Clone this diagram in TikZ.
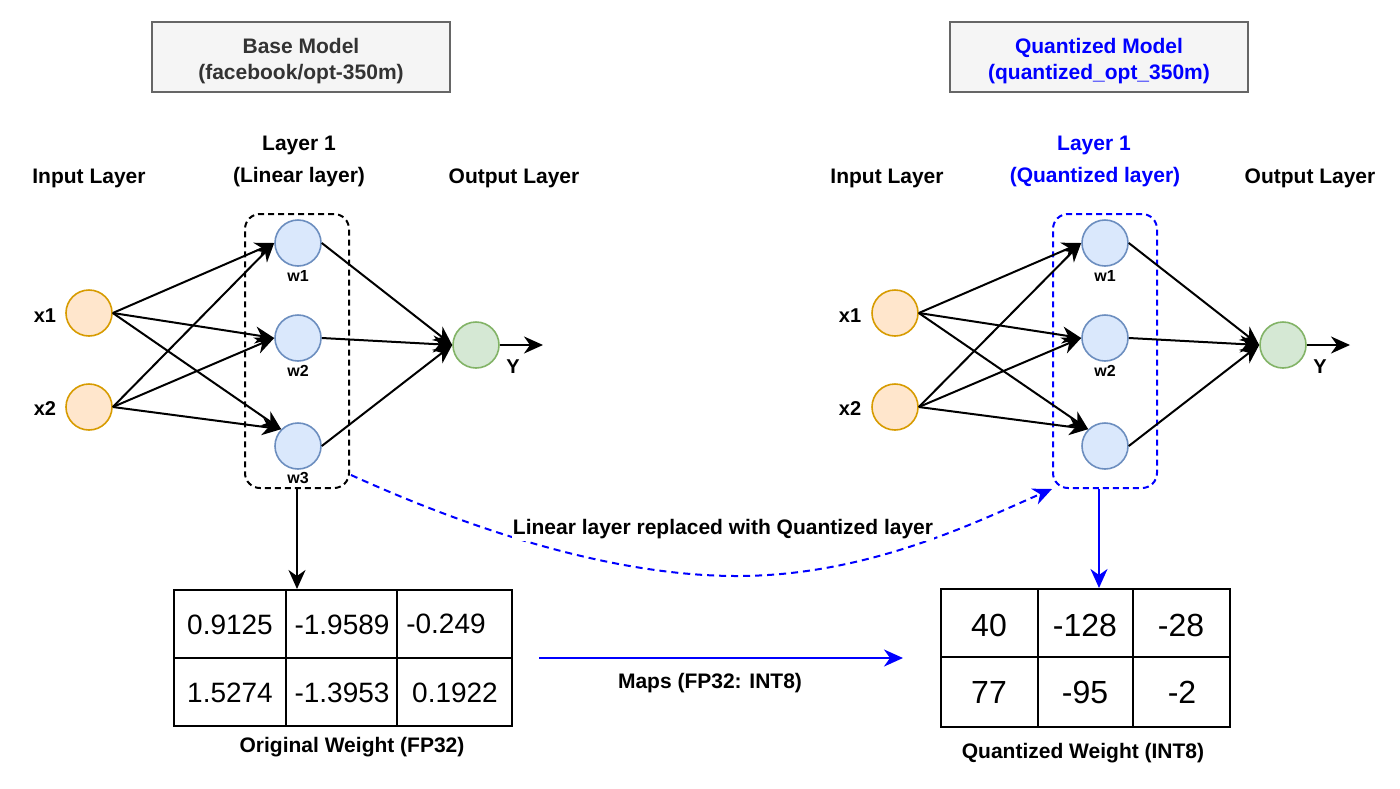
\documentclass[tikz,border=0pt]{standalone}
\usepackage{fontspec}
\setmainfont{Liberation Sans}
\usetikzlibrary{arrows.meta,calc}
\definecolor{ofill}{HTML}{FFE6CC}
\definecolor{odraw}{HTML}{D79B00}
\definecolor{bfill}{HTML}{DAE8FC}
\definecolor{bdraw}{HTML}{6C8EBF}
\definecolor{gfill}{HTML}{D5E8D4}
\definecolor{gdraw}{HTML}{82B366}
\definecolor{tfill}{HTML}{F5F5F5}
\definecolor{tdraw}{HTML}{666666}
\definecolor{tdark}{HTML}{333333}
\definecolor{pureblue}{HTML}{0000FF}
\tikzset{
  lbl/.style={font=\bfseries\fontsize{21}{25}\selectfont, inner sep=0pt},
  xlbl/.style={font=\bfseries\fontsize{20}{24}\selectfont, inner sep=0pt},
  wlbl/.style={font=\bfseries\fontsize{16}{18}\selectfont, inner sep=0pt},
  numL/.style={font=\fontsize{28}{32}\selectfont, inner sep=0pt},
  numR/.style={font=\fontsize{32}{36}\selectfont, inner sep=0pt},
  neuron/.style={circle, minimum size=46pt, inner sep=0pt, line width=1.6pt},
  inp/.style={neuron, fill=ofill, draw=odraw},
  hid/.style={neuron, fill=bfill, draw=bdraw},
  outn/.style={neuron, fill=gfill, draw=gdraw},
  tip/.style={-{Stealth[length=19pt,width=17pt,inset=6pt]}},
  conn/.style={line width=2pt, tip},
  titlebox/.style={draw=tdraw, fill=tfill, line width=2pt, minimum width=298pt, minimum height=70pt},
  titletext/.style={align=center, inner sep=0pt, font=\bfseries\fontsize{21}{26}\selectfont},
  layerbox/.style={rounded corners=15pt, line width=2pt, dash pattern=on 6pt off 4pt, minimum width=104pt, minimum height=274pt},
  tablebox/.style={draw, line width=2pt, inner sep=0pt},
}
\begin{document}
\begin{tikzpicture}[x=1pt,y=-1pt]
\useasboundingbox (0,0) rectangle (1400,788);

% ---------- Left: base model ----------
\node[titlebox] (titleL) at (301,57) {};
\node[titletext, text=tdark] (titleLt) at (301,61) {Base Model\\(facebook/opt-350m)};
\node[lbl] (layL1) at (299,145) {Layer 1};
\node[lbl] (layL2) at (299,177) {(Linear layer)};
\node[lbl] (inL) at (89,178) {Input Layer};
\node[lbl] (outL) at (514,178) {Output Layer};

\node[layerbox, draw=black] (boxL) at (297,351) {};

\node[inp] (x1L) at (89,313) {};
\node[inp] (x2L) at (89,407) {};
\node[xlbl] (lx1L) at (45,316) {x1};
\node[xlbl] (lx2L) at (45,409) {x2};

\node[hid] (w1L) at (298,243) {};
\node[hid] (w2L) at (298,338) {};
\node[hid] (w3L) at (298,446) {};
\node[wlbl] (lw1L) at (298,276) {w1};
\node[wlbl] (lw2L) at (298,371) {w2};
\node[wlbl] (lw3L) at (298,478) {w3};

\node[outn] (yL) at (476,345) {};
\coordinate (yendL) at (543,345);
\node[xlbl] (lyL) at (513,367) {Y};

\draw[conn] (x1L.east) -- (w1L.west);
\draw[conn] (x1L.east) -- (w2L.west);
\draw[conn] (x1L.east) -- (w3L.135);
\draw[conn] (x2L.east) -- (w1L.west);
\draw[conn] (x2L.east) -- (w2L.west);
\draw[conn] (x2L.east) -- (w3L.135);
\draw[conn] (w1L.east) -- (yL.west);
\draw[conn] (w2L.east) -- (yL.west);
\draw[conn] (w3L.east) -- (yL.west);
\draw[conn] (yL.east) -- (yendL);

% left table
\node[tablebox, minimum width=338pt, minimum height=136pt] (tabL) at (343,658) {};
\draw[line width=2pt] (286,590) -- (286,726) (397,590) -- (397,726) (174,658) -- (512,658);
\node[numL] (a11) at (230,625) {0.9125};
\node[numL] (a12) at (342,625) {-1.9589};
\node[numL] (a13) at (446,624) {-0.249};
\node[numL] (a21) at (230,693) {1.5274};
\node[numL] (a22) at (342,693) {-1.3953};
\node[numL] (a23) at (455,693) {0.1922};
\node[lbl] (capL) at (352,747) {Original Weight (FP32)};

\draw[conn] (boxL.south) -- (boxL.south |- tabL.north);

% ---------- Right: quantized model ----------
\node[titlebox] (titleR) at (1099,57) {};
\node[titletext, text=pureblue] (titleRt) at (1099,61) {Quantized Model\\(quantized\_opt\_350m)};
\node[lbl, text=pureblue] (layR1) at (1094,145) {Layer 1};
\node[lbl, text=pureblue] (layR2) at (1095,177) {(Quantized layer)};
\node[lbl] (inR) at (887,178) {Input Layer};
\node[lbl] (outR) at (1310,178) {Output Layer};

\node[layerbox, draw=pureblue] (boxR) at (1105,351) {};

\node[inp] (x1R) at (895,313) {};
\node[inp] (x2R) at (895,407) {};
\node[xlbl] (lx1R) at (850,316) {x1};
\node[xlbl] (lx2R) at (850,409) {x2};

\node[hid] (w1R) at (1105,243) {};
\node[hid] (w2R) at (1105,338) {};
\node[hid] (w3R) at (1105,446) {};
\node[wlbl] (lw1R) at (1105,276) {w1};
\node[wlbl] (lw2R) at (1105,371) {w2};

\node[outn] (yR) at (1283,345) {};
\coordinate (yendR) at (1350,345);
\node[xlbl] (lyR) at (1320,367) {Y};

\draw[conn] (x1R.east) -- (w1R.west);
\draw[conn] (x1R.east) -- (w2R.west);
\draw[conn] (x1R.east) -- (w3R.135);
\draw[conn] (x2R.east) -- (w1R.west);
\draw[conn] (x2R.east) -- (w2R.west);
\draw[conn] (x2R.east) -- (w3R.135);
\draw[conn] (w1R.east) -- (yR.west);
\draw[conn] (w2R.east) -- (yR.west);
\draw[conn] (w3R.east) -- (yR.west);
\draw[conn] (yR.east) -- (yendR);

% right table
\node[tablebox, minimum width=289pt, minimum height=138pt] (tabR) at (1085.5,658) {};
\draw[line width=2pt] (1038,589) -- (1038,727) (1133,589) -- (1133,727) (941,657) -- (1230,657);
\node[numR] (b11) at (989,625) {40};
\node[numR] (b12) at (1085,625) {-128};
\node[numR] (b13) at (1181,625) {-28};
\node[numR] (b21) at (989,692) {77};
\node[numR] (b22) at (1085,692) {-95};
\node[numR] (b23) at (1182,692) {-2};
\node[lbl] (capR) at (1083,753) {Quantized Weight (INT8)};

\draw[conn, draw=pureblue, fill=pureblue] (boxR.south -| 1099,0) -- (1099,0 |- tabR.north);

% ---------- mapping arrow ----------
\coordinate (m1) at (539,658);
\coordinate (m2) at (903,658);
\draw[conn, draw=pureblue, fill=pureblue] (m1) -- (m2);
\node[lbl] (maps) at (710,683) {Maps (FP32: INT8)};

% ---------- replacement curve ----------
\coordinate (c1) at (351,475);
\draw[line width=2pt, pureblue, dash pattern=on 7pt off 5pt, tip]
  (c1) .. controls (450,520) and (600,576) .. (737,576)
       .. controls (870,576) and (980,520) .. (boxR.south west);
\node[lbl, fill=white, inner xsep=1pt, inner ysep=2pt] (repl) at (723,529) {Linear layer replaced with Quantized layer};
\end{tikzpicture}
\end{document}
